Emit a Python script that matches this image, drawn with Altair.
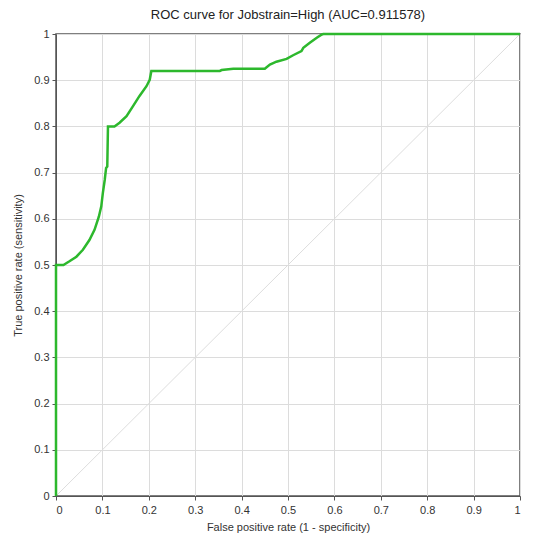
import pandas as pd
import altair as alt

fpr = [0.0, 0.0, 0.016, 0.029, 0.044, 0.058, 0.072, 0.083, 0.0925, 0.0976, 0.101,
       0.105, 0.108, 0.1105, 0.112, 0.126, 0.137, 0.152, 0.166, 0.180, 0.195,
       0.202, 0.2055, 0.353, 0.357, 0.382, 0.45, 0.461, 0.475, 0.497, 0.511,
       0.529, 0.533, 0.547, 0.562, 0.573, 0.576, 1.0]
tpr = [0.0, 0.5, 0.5, 0.508, 0.518, 0.533, 0.554, 0.576, 0.605, 0.627, 0.656,
       0.684, 0.71, 0.713, 0.8, 0.8, 0.808, 0.822, 0.844, 0.866, 0.887,
       0.901, 0.92, 0.92, 0.922, 0.925, 0.925, 0.934, 0.94, 0.946, 0.954,
       0.963, 0.97, 0.981, 0.992, 0.999, 1.0, 1.0]
diag = [0.0, 1.0]
ticks = [0, 0.1, 0.2, 0.3, 0.4, 0.5, 0.6, 0.7, 0.8, 0.9, 1]

roc = pd.DataFrame({'fpr': fpr, 'tpr': tpr, 'i': range(len(fpr))})
ref = pd.DataFrame({'fpr': diag, 'tpr': diag})

font = 'Liberation Sans'

x_axis = alt.Axis(values=ticks, format='~g', title='False positive rate (1 - specificity)',
                  grid=True, gridColor='#dcdcdc', domainColor='#555', tickColor='#555',
                  tickSize=4, labelFontSize=11, titleFontSize=11, labelColor='#333',
                  titleColor='#333', titleFontWeight='normal', labelFont=font, titleFont=font,
                  titlePadding=6, labelPadding=4)
y_axis = alt.Axis(values=ticks, format='~g', title='True positive rate (sensitivity)',
                  grid=True, gridColor='#dcdcdc', domainColor='#555', tickColor='#555',
                  tickSize=4, labelFontSize=11, titleFontSize=11, labelColor='#333',
                  titleColor='#333', titleFontWeight='normal', labelFont=font, titleFont=font,
                  titlePadding=10, labelPadding=3)

scale = alt.Scale(domain=[0, 1], nice=False)

base_line = alt.Chart(ref).mark_line(color='#dddddd', strokeWidth=1).encode(
    x=alt.X('fpr:Q', scale=scale, axis=x_axis),
    y=alt.Y('tpr:Q', scale=scale, axis=y_axis)
)

curve = alt.Chart(roc).mark_line(color='#2db82d', strokeWidth=2.5).encode(
    x=alt.X('fpr:Q', scale=scale),
    y=alt.Y('tpr:Q', scale=scale),
    order='i:Q'
)

chart = (base_line + curve).properties(
    width=464,
    height=462,
    title=alt.TitleParams('ROC curve for Jobstrain=High (AUC=0.911578)', fontSize=13,
                          font=font, fontWeight='normal', color='#222', offset=6),
    autosize=alt.AutoSizeParams(type='none'),
    padding={'left': 48, 'top': 26, 'right': 13, 'bottom': 50}
).configure_view(stroke='#555', strokeWidth=1.5)

chart.save("out.html", embed_options={"renderer": "svg", "actions": False})
